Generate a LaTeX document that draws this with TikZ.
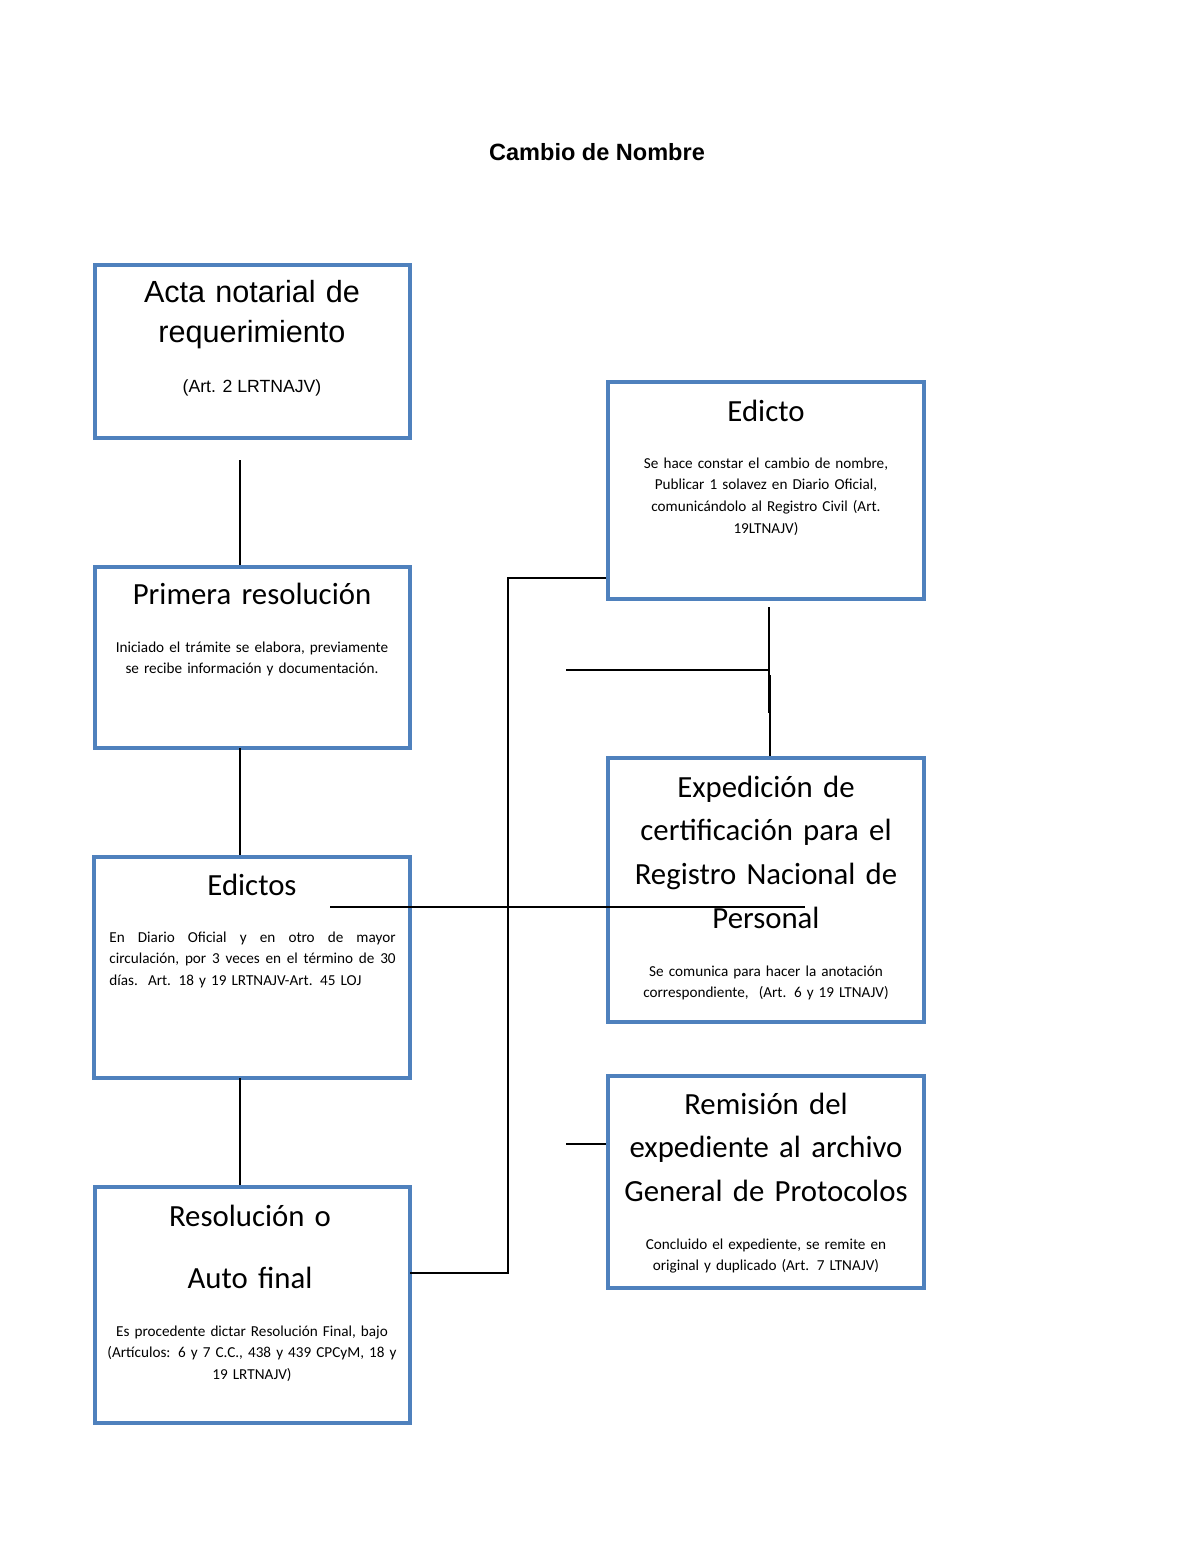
\documentclass[tikz,border=0pt]{standalone}
\usepackage{fontspec}
\setmainfont{Carlito}
\newfontfamily\arialf{Liberation Sans}
\usetikzlibrary{fit}
\definecolor{boxblue}{HTML}{4F81BD}
\begin{document}
\begin{tikzpicture}[x=0.51pt,y=-0.51pt,
  box/.style={draw=boxblue, line width=2pt, inner sep=0pt, fill=white},
  conn/.style={line width=1.4pt, black},
  head/.style={font=\fontsize{15.7}{22.4}\selectfont, align=center, inner sep=0pt, anchor=base, text width=158pt},
  body/.style={font=\fontsize{7.75}{11.2}\selectfont, align=center, inner sep=0pt, anchor=base, text width=158pt}]
\useasboundingbox (0,0) rectangle (1200,1553);
\fill[white] (0,0) rectangle (1200,1553);

% title
\node[font=\arialf\bfseries\fontsize{12}{14}\selectfont, anchor=base, inner sep=0pt] (title) at (597,161) {Cambio de Nombre};

% boxes
\node[box, fit={(95,265) (410,438)}] (acta) {};
\node[box, fit={(95,567) (410,748)}] (primera) {};
\node[box, fit={(94,857) (410,1078)}] (edictos) {};
\node[box, fit={(95,1187) (410,1423)}] (resol) {};
\node[box, fit={(608,382) (924,599)}] (edicto) {};
\node[box, fit={(608,758) (924,1022)}] (exped) {};
\node[box, fit={(608,1076) (924,1288)}] (remis) {};

% texts
\node[head, font=\arialf\fontsize{15.6}{20.4}\selectfont] (actaT) at (252,302) {Acta notarial de\\requerimiento};
\node[font=\arialf\fontsize{9}{11}\selectfont, anchor=base, inner sep=0pt] (actaB) at (252,392) {(Art. 2 LRTNAJV)};

\node[head] (primT) at (252,604) {Primera resolución};
\node[body] (primB) at (252,652) {Iniciado el trámite se elabora, previamente\\se recibe información y documentación.};

\node[head] (edsT) at (252,895) {Edictos};
\node[body, anchor=base west, text width=146pt, align=left] (edsB) at (109,942) {\makebox[146pt][l]{En\hfill Diario\hfill Oficial\hfill y\hfill en\hfill otro\hfill de\hfill mayor}\\\makebox[146pt][l]{circulación,\hfill por\hfill 3\hfill veces\hfill en\hfill el\hfill término\hfill de\hfill 30}\\días.\ \ Art. 18 y 19 LRTNAJV-Art. 45 LOJ};

\node[head, font=\fontsize{15.7}{32.1}\selectfont] (resT) at (250,1226) {Resolución o\\Auto final};
\node[body] (resB) at (252,1336) {Es procedente dictar Resolución Final, bajo\\(Artículos: 6 y 7 C.C., 438 y 439 CPCyM, 18 y\\19 LRTNAJV)};

\node[head] (edT) at (766,421) {Edicto};
\node[body] (edB) at (766,468) {Se hace constar el cambio de nombre,\\Publicar 1 solavez en Diario Oficial,\\comunicándolo al Registro Civil (Art.\\19LTNAJV)};

\node[head] (exT) at (766,797) {Expedición de\\certificación para el\\Registro Nacional de\\Personal};
\node[body] (exB) at (766,976) {Se comunica para hacer la anotación\\correspondiente,\ \ (Art. 6 y 19 LTNAJV)};

\node[head] (reT) at (766,1114) {Remisión del\\expediente al archivo\\General de Protocolos};
\node[body] (reB) at (766,1249) {Concluido el expediente, se remite en\\original y duplicado (Art. 7 LTNAJV)};

% connectors
\coordinate (c1) at (240,460);
\draw[conn] (c1) -- (c1 |- primera.north);
\coordinate (c2) at (240,748);
\draw[conn] (c2) -- (c2 |- edictos.north);
\coordinate (c3) at (240,1078);
\draw[conn] (c3) -- (c3 |- resol.north);

\coordinate (r1) at (410,1273);
\coordinate (r2) at (508,1273);
\coordinate (r3) at (508,578);
\draw[conn] (r1) -- (r2) -- (r3) -- (r3 -| edicto.west);

\coordinate (h1) at (330,907);
\coordinate (h2) at (805,907);
\draw[conn] (h1) -- (h2);

\coordinate (v1) at (769,607);
\coordinate (v2) at (769,713);
\draw[conn] (v1) -- (v2);
\coordinate (v3) at (770,675);
\draw[conn] (v3) -- (v3 |- exped.north);
\coordinate (h3) at (566,670);
\draw[conn] (h3) -- (h3 -| v1);

\coordinate (h4) at (566,1144);
\draw[conn] (h4) -- (h4 -| remis.west);
\end{tikzpicture}
\end{document}
